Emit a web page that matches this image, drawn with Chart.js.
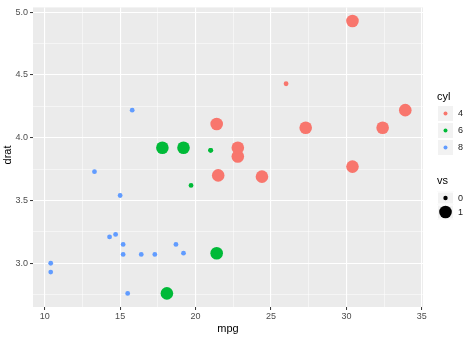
<!DOCTYPE html>
<html>
<head>
<meta charset="utf-8">
<script src="https://cdn.jsdelivr.net/npm/chart.js@4"></script>
<style>
  html, body { margin: 0; padding: 0; background: #fff; }
  #wrap { width: 474px; height: 338px; position: relative; }
</style>
</head>
<body>
<div id="wrap"><canvas id="chart"></canvas></div>
<script>
// mtcars: mpg vs drat, colour = cyl, size = vs
const mpg  = [21.0, 21.0, 22.8, 21.4, 18.7, 18.1, 14.3, 24.4, 22.8, 19.2, 17.8, 16.4, 17.3, 15.2, 10.4, 10.4,
              14.7, 32.4, 30.4, 33.9, 21.5, 15.5, 15.2, 13.3, 19.2, 27.3, 26.0, 30.4, 15.8, 19.7, 15.0, 21.4];
const drat = [3.90, 3.90, 3.85, 3.08, 3.15, 2.76, 3.21, 3.69, 3.92, 3.92, 3.92, 3.07, 3.07, 3.07, 2.93, 3.00,
              3.23, 4.08, 4.93, 4.22, 3.70, 2.76, 3.15, 3.73, 3.08, 4.08, 4.43, 3.77, 4.22, 3.62, 3.54, 4.11];
const cyl  = [6, 6, 4, 6, 8, 6, 8, 4, 4, 6, 6, 8, 8, 8, 8, 8, 8, 4, 4, 4, 4, 8, 8, 8, 8, 4, 4, 4, 8, 6, 8, 4];
const vs   = [0, 0, 1, 1, 0, 1, 0, 1, 1, 1, 1, 0, 0, 0, 0, 0, 0, 1, 1, 1, 1, 0, 0, 0, 0, 1, 0, 1, 0, 0, 0, 1];

const cylLevels = [4, 6, 8];
const cylColors = ["#F8766D", "#00BA38", "#619CFF"];
const vsLevels = [0, 1];
const vsRadius = [2.4, 6.3];

const xTicks = [10, 15, 20, 25, 30, 35];
const yTicks = [3.0, 3.5, 4.0, 4.5, 5.0];

const points = mpg.map((m, i) => ({ x: m, y: drat[i] }));

// --- panel background (ggplot grey) ---
const panelBg = {
    id: "panelBg",
    beforeDraw(chart) {
        const { ctx, chartArea: a } = chart;
        ctx.save();
        ctx.fillStyle = "#EBEBEB";
        ctx.fillRect(a.left, a.top, a.right - a.left, a.bottom - a.top);
        ctx.restore();
    }
};

// --- legends + axis titles drawn by hand ---
const ggLegend = {
    id: "ggLegend",
    afterDraw(chart) {
        const ctx = chart.ctx;
        ctx.save();
        ctx.textBaseline = "middle";
        ctx.font = "11px 'Liberation Sans', Arial, sans-serif";
        ctx.fillStyle = "#000";
        ctx.textAlign = "left";
        ctx.fillText("cyl", 437, 97);

        const keyX = 437, keyW = 17, keyH = 17;
        ctx.font = "9px 'Liberation Sans', Arial, sans-serif";
        cylLevels.forEach((lv, i) => {
            const y = 105 + i * keyH;
            ctx.fillStyle = "#F2F2F2";
            ctx.fillRect(keyX, y, keyW, keyH);
            ctx.strokeStyle = "#FFFFFF";
            ctx.lineWidth = 1;
            ctx.strokeRect(keyX + 0.5, y + 0.5, keyW - 1, keyH - 1);
            ctx.fillStyle = cylColors[i];
            ctx.beginPath();
            ctx.arc(keyX + keyW / 2, y + keyH / 2, 2.0, 0, Math.PI * 2);
            ctx.fill();
            ctx.fillStyle = "#1A1A1A";
            ctx.fillText(String(lv), 458, y + keyH / 2 + 0.5);
        });

        ctx.font = "11px 'Liberation Sans', Arial, sans-serif";
        ctx.fillStyle = "#000";
        ctx.fillText("vs", 437, 181);
        ctx.font = "9px 'Liberation Sans', Arial, sans-serif";
        const vsH = [13, 15];
        let y0 = 191.5;
        vsLevels.forEach((lv, i) => {
            const h = vsH[i];
            ctx.fillStyle = "#F2F2F2";
            ctx.fillRect(keyX, y0, keyW, h);
            ctx.strokeStyle = "#FFFFFF";
            ctx.strokeRect(keyX + 0.5, y0 + 0.5, keyW - 1, h - 1);
            ctx.fillStyle = "#000";
            ctx.beginPath();
            ctx.arc(keyX + keyW / 2, y0 + h / 2, i === 0 ? 2.2 : 6.3, 0, Math.PI * 2);
            ctx.fill();
            ctx.fillStyle = "#1A1A1A";
            ctx.fillText(String(lv), 458, y0 + h / 2 + 0.5);
            y0 += h;
        });

        // axis titles
        ctx.font = "11px 'Liberation Sans', Arial, sans-serif";
        ctx.fillStyle = "#000";
        ctx.textAlign = "center";
        ctx.fillText("mpg", 228, 329);
        ctx.translate(8, 155);
        ctx.rotate(-Math.PI / 2);
        ctx.fillText("drat", 0, 0);
        ctx.restore();
    }
};

function isMajor(v, list) {
    return list.some(t => Math.abs(t - v) < 1e-6);
}

new Chart(document.getElementById("chart"), {
    type: "scatter",
    data: {
        datasets: [{
            data: points,
            backgroundColor: ctx => cylColors[cylLevels.indexOf(cyl[ctx.dataIndex])],
            pointRadius: ctx => vsRadius[vs[ctx.dataIndex]],
            pointHoverRadius: ctx => vsRadius[vs[ctx.dataIndex]],
            borderWidth: 0
        }]
    },
    options: {
        responsive: true,
        maintainAspectRatio: false,
        animation: false,
        events: [],
        layout: { padding: { left: 0, right: 51, top: 5, bottom: 0 } },
        plugins: {
            legend: { display: false },
            tooltip: { enabled: false }
        },
        scales: {
            x: {
                type: "linear",
                min: 9.225,
                max: 35.075,
                afterBuildTicks: s => {
                    s.ticks = [];
                    for (let v = 7.5; v <= 35.075; v += 2.5) {
                        if (v >= s.min) s.ticks.push({ value: v });
                    }
                },
                afterFit: s => { s.height = 31; },
                border: { display: false },
                grid: {
                    color: "#FFFFFF",
                    lineWidth: c => isMajor(c.tick.value, xTicks) ? 1.1 : 0.5,
                    tickLength: 3,
                    tickColor: c => isMajor(c.tick.value, xTicks) ? "#333333" : "rgba(0,0,0,0)",
                    tickWidth: 1
                },
                ticks: {
                    autoSkip: false,
                    maxRotation: 0,
                    padding: 1,
                    color: "#4D4D4D",
                    font: { family: "'Liberation Sans', Arial, sans-serif", size: 9 },
                    callback: v => isMajor(v, xTicks) ? String(v) : ""
                }
            },
            y: {
                type: "linear",
                min: 2.6515,
                max: 5.0385,
                afterBuildTicks: s => {
                    s.ticks = [];
                    for (let v = 2.75; v <= 5.0385; v += 0.25) {
                        s.ticks.push({ value: Math.round(v * 100) / 100 });
                    }
                },
                afterFit: s => { s.width = 33; },
                border: { display: false },
                grid: {
                    color: "#FFFFFF",
                    lineWidth: c => isMajor(c.tick.value, yTicks) ? 1.1 : 0.5,
                    tickLength: 3,
                    tickColor: c => isMajor(c.tick.value, yTicks) ? "#333333" : "rgba(0,0,0,0)",
                    tickWidth: 1
                },
                ticks: {
                    autoSkip: false,
                    padding: 2,
                    color: "#4D4D4D",
                    font: { family: "'Liberation Sans', Arial, sans-serif", size: 9 },
                    callback: v => isMajor(v, yTicks) ? v.toFixed(1) : ""
                }
            }
        }
    },
    plugins: [panelBg, ggLegend]
});
</script>
</body>
</html>
